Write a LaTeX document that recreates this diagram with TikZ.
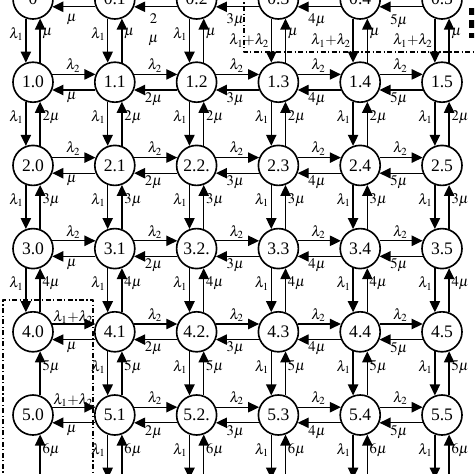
\documentclass[tikz,border=0pt]{standalone}
\usepackage{mathptmx}
\usepackage{fontspec}
\setmainfont{Liberation Serif}
\usetikzlibrary{arrows.meta,positioning}
\begin{document}
\begin{tikzpicture}[x=0.03cm, y=-0.03cm, font=\fontsize{15}{18}\selectfont, line join=round, >={Triangle[length=0.33cm,width=0.31cm]},
	st/.style={draw, circle, line width=1.4pt, minimum size=1.2cm, inner sep=0pt},
	ar/.style={->, line width=1.1pt},
	lab/.style={inner sep=1.5pt, font=\fontsize{12.5}{15}\selectfont},
	box/.style={line width=1.1pt, dash pattern=on 4.3pt off 2.1pt on 1pt off 2.1pt}]
	\useasboundingbox (0,0) rectangle (474,474);
	\clip (0,0) rectangle (474,474);
	\foreach \i in {0,...,6}
	\foreach \j in {0,...,5}{
		\ifnum\i=6 \def\txt{}\else\def\txt{\i.\j}\fi
		\ifnum\j=2 \ifnum\i>1 \ifnum\i<6 \def\txt{\i.2.}\fi\fi\fi
		\ifnum\i=0 \ifnum\j=0 \def\txt{0}\fi\fi
		\node[st] (n\i\j) at ({33+81.8*\j},{-1+83.2*\i}) {\txt};
	}
	\foreach \i in {1,...,6}
	\foreach \j in {0,...,4}{
		\pgfmathtruncatemacro\nj{\j+1}
		\def\lb{$\lambda_2$}\def\isep{1.5pt}
		\ifnum\j=0 \ifnum\i>3 \def\lb{$\lambda_1{+}\lambda_2$}\def\isep{0pt}\fi\fi
		\draw[ar] (n\i\j.22) -- node[lab, pos=0.48, above, inner sep=\isep]{\lb} (n\i\nj.158);
	}
	\foreach \i in {0,...,6}
	\foreach \j in {0,...,4}{
		\pgfmathtruncatemacro\nj{\j+1}
		\ifnum\nj=1 \def\lb{$\mu$}\else\def\lb{$\nj\mu$}\fi
		\ifnum\i=0 \def\dy{-0.15cm}\else\def\dy{0cm}\fi
		\ifnum\i=0 \ifnum\nj=2 \def\lb{$2$}\fi\fi
		\draw[ar] (n\i\nj.-158) -- node[lab, pos=0.55, below, yshift=\dy] (b\i\j) {\lb} (n\i\j.-22);
	}
	\node[lab, below=0.2cm of b01] (b01m) {$\mu$};
	\foreach \i in {0,...,3}{
		\pgfmathtruncatemacro\ni{\i+1}
		\draw[ar] (n\i0.250) -- node[lab, pos=0.35, left]{$\lambda_1$} (n\ni0.110);
	}
	\foreach \i in {0,...,5}
	\foreach \j in {1,...,5}{
		\pgfmathtruncatemacro\ni{\i+1}
		\def\lb{$\lambda_1$}\def\ps{0.35}
		\ifnum\i=0 \ifnum\j>2 \def\lb{$\lambda_1{+}\lambda_2$}\def\ps{0.5}\fi\fi
		\draw[ar] (n\i\j.250) -- node[lab, pos=\ps, left]{\lb} (n\ni\j.110);
	}
	\foreach \i in {0,...,5}
	\foreach \j in {0,...,5}{
		\pgfmathtruncatemacro\ni{\i+1}
		\ifnum\i=0 \def\lb{$\mu$}\else\def\lb{$\ni\mu$}\fi
		\draw[ar] (n\ni\j.70) -- node[lab, pos=0.65, right]{\lb} (n\i\j.-70);
	}
	\draw[box] (244,-5) -- (244,52) -- (480,52);
	\draw[line width=5pt, dash pattern=on 6.4pt off 4.3pt] (472,7.5) -- (472,38);
	\draw[box] (3,480) -- (3,300) -- (93,300) -- (93,480);
\end{tikzpicture}
\end{document}
